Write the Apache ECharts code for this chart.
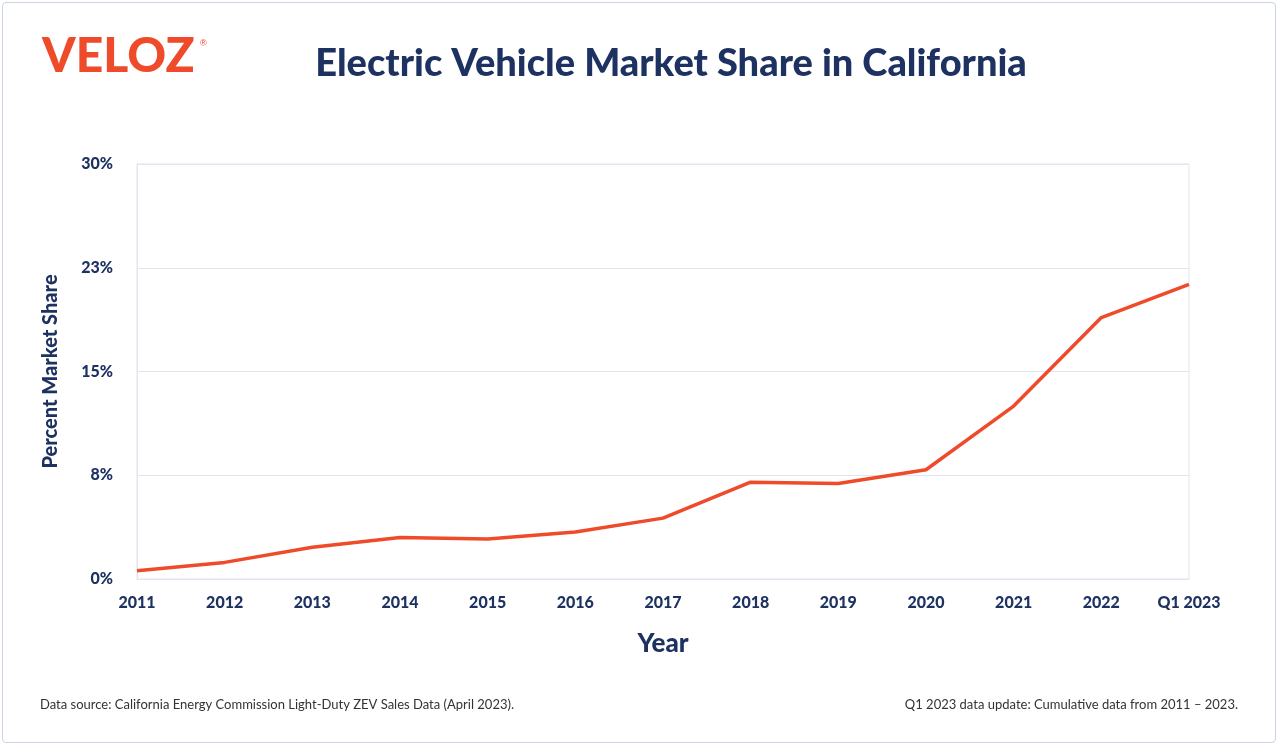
<!DOCTYPE html>
<html>
<head>
<meta charset="utf-8">
<script src="https://cdn.jsdelivr.net/npm/echarts@6/dist/echarts.min.js"></script>
<style>
html, body { margin: 0; padding: 0; background: #fff; }
#frame { position: absolute; left: 2px; top: 2px; width: 1274px; height: 741px; border: 1px solid #c9d3ea; border-radius: 4px; box-sizing: border-box; }
#chart { width: 1280px; height: 747px; }
</style>
</head>
<body>
<div id="frame"></div>
<div id="chart"></div>
<script>
var years = ['2011', '2012', '2013', '2014', '2015', '2016', '2017', '2018', '2019', '2020', '2021', '2022', 'Q1 2023'];
var share = [0.6, 1.2, 2.3, 3.0, 2.9, 3.4, 4.4, 7.0, 6.9, 7.9, 12.5, 18.9, 21.3];

var navy = '#1e3262';
var chart = echarts.init(document.getElementById('chart'));
chart.setOption({
    textStyle: { fontFamily: 'Lato' },
    title: {
        text: 'Electric Vehicle Market Share in California',
        left: 666, top: 40, textAlign: 'center',
        textStyle: { fontSize: 38, fontWeight: 900, color: navy, fontFamily: 'Lato' }
    },
    graphic: [
        { type: 'text', left: 42, top: 33, style: { text: 'VELOZ', fontSize: 48, fontWeight: 900, fill: '#ef4b2b', fontFamily: 'Lato' } },
        { type: 'text', left: 200, top: 39, style: { text: '®', fontSize: 9, fill: '#ef4b2b' } },
        { type: 'text', left: 40, top: 698, style: { text: 'Data source: California Energy Commission Light-Duty ZEV Sales Data (April 2023).', fontSize: 13, fill: '#333', fontFamily: 'Lato' } },
        { type: 'text', right: 42, top: 698, style: { text: 'Q1 2023 data update: Cumulative data from 2011 – 2023.', fontSize: 13, fill: '#333', fontFamily: 'Lato' } }
    ],
    grid: { left: 137, right: 91, top: 164, bottom: 168, show: true, borderColor: '#dfe6f0', borderWidth: 1 },
    xAxis: {
        type: 'category', data: years, boundaryGap: false,
        name: 'Year', nameLocation: 'middle', nameGap: 52,
        nameTextStyle: { fontSize: 26, fontWeight: 900, color: navy },
        axisLine: { lineStyle: { color: '#dfe6f0' } },
        axisTick: { show: false },
        axisLabel: { fontSize: 16, fontWeight: 900, color: navy, margin: 16 },
        splitLine: { show: false }
    },
    yAxis: {
        type: 'value', min: 0, max: 30, interval: 7.5,
        name: 'Percent Market Share', nameLocation: 'middle', nameGap: 76,
        nameTextStyle: { fontSize: 20, fontWeight: 900, color: navy },
        axisLine: { show: true, lineStyle: { color: '#dfe6f0' } },
        axisLabel: { fontSize: 16, fontWeight: 900, color: navy, margin: 24, formatter: function (v) { return Math.round(v) + '%'; } },
        splitLine: { lineStyle: { color: '#dfe6f0' } }
    },
    series: [{
        type: 'line', data: share, symbol: 'none',
        lineStyle: { color: '#ef4b2b', width: 3.5 }
    }]
});
</script>
</body>
</html>
